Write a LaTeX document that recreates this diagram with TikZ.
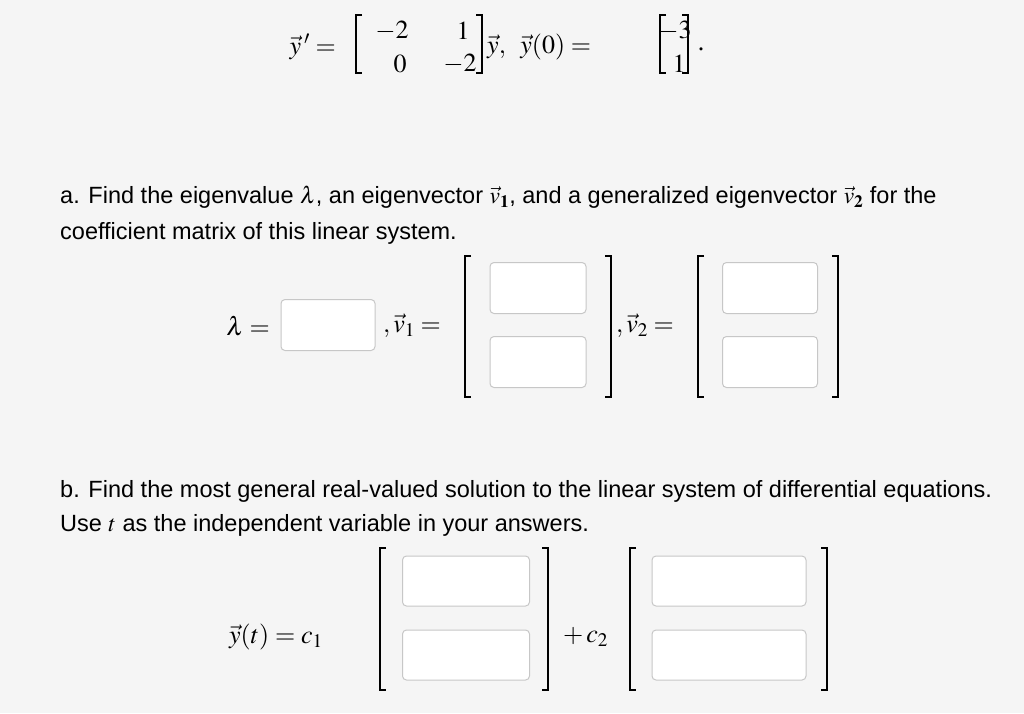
\documentclass[tikz,border=0pt]{standalone}
\usepackage{mathptmx}
\usepackage{fontspec}
\setmainfont{Liberation Serif}
\newfontfamily\uisans{Liberation Sans}
\begin{document}
\begin{tikzpicture}[x=1pt,y=-1pt,
  inbox/.style={draw=black!22,fill=white,rounded corners=4pt,line width=1pt},
  brk/.style={line width=1.4pt},
  txt/.style={anchor=west,inner sep=0,font=\uisans\fontsize{23.5}{28}\selectfont},
  mth/.style={inner sep=0,font=\fontsize{26}{30}\selectfont}]
\fill[black!4] (0,0) rectangle (1024,713);
\useasboundingbox (0,0) rectangle (1024,713);
% top equation
\node[mth,anchor=east] (eq1) at (336,47) {$\vec{y}\,' =$};
\draw[brk] (362,15) -- (356,15) -- (356,73) -- (362,73);
\node[mth] (m11) at (392,31) {$-2$};
\node[mth] (m12) at (463,31) {$1$};
\node[mth] (m21) at (400,64) {$0$};
\node[mth] (m22) at (460,64) {$-2$};
\draw[brk] (476,15) -- (482,15) -- (482,73) -- (476,73);
\node[mth,anchor=west] (eq2) at (487,47) {$\vec{y},\;\; \vec{y}(0) =$};
\draw[brk] (666,15) -- (660,15) -- (660,73) -- (666,73);
\node[mth] (i1) at (675,31) {$-3$};
\node[mth] (i2) at (679,64) {$1$};
\draw[brk] (682,15) -- (688,15) -- (688,73) -- (682,73);
\node[mth] (dot) at (701,49) {.};
% part a
\node[txt] (a1) at (60,197) {a. Find the eigenvalue $\lambda$, an eigenvector $\vec{v}_{\mathbf 1}$, and a generalized eigenvector $\vec{v}_{\mathbf 2}$ for the};
\node[txt] (a2) at (60,233) {coefficient matrix of this linear system.};
\node[mth,anchor=east] (lam) at (270,326) {$\lambda =$};
\node[inbox,minimum width=94pt,minimum height=51pt,inner sep=0] (lb) at (328,325) {};
\node[mth,anchor=west] (v1) at (383,326) {${,}\,\vec{v}_{1} =$};
\draw[brk] (471,256) -- (465,256) -- (465,397) -- (471,397);
\node[inbox,minimum width=96pt,minimum height=51pt,inner sep=0] (b11) at (538,288) {};
\node[inbox,minimum width=96pt,minimum height=51pt,inner sep=0] (b12) at (538,362) {};
\draw[brk] (605,256) -- (611,256) -- (611,397) -- (605,397);
\node[mth,anchor=west] (v2) at (616,326) {${,}\,\vec{v}_{2} =$};
\draw[brk] (704,256) -- (698,256) -- (698,397) -- (704,397);
\node[inbox,minimum width=95pt,minimum height=51pt,inner sep=0] (b21) at (770,288) {};
\node[inbox,minimum width=95pt,minimum height=51pt,inner sep=0] (b22) at (770,362) {};
\draw[brk] (832,256) -- (838,256) -- (838,397) -- (832,397);
% part b
\node[txt] (b1) at (60,491) {b. Find the most general real-valued solution to the linear system of differential equations.};
\node[txt] (b2) at (60,525) {Use $t$ as the independent variable in your answers.};
\node[mth,anchor=west] (yt) at (229,637) {$\vec{y}(t) = c_1$};
\draw[brk] (386,548) -- (380,548) -- (380,690) -- (386,690);
\node[inbox,minimum width=127pt,minimum height=50pt,inner sep=0] (c11) at (466,581) {};
\node[inbox,minimum width=127pt,minimum height=50pt,inner sep=0] (c12) at (466,655) {};
\draw[brk] (542,548) -- (548,548) -- (548,690) -- (542,690);
\node[mth,anchor=west] (c2) at (563,637) {$+\,c_2$};
\draw[brk] (636,548) -- (630,548) -- (630,690) -- (636,690);
\node[inbox,minimum width=154pt,minimum height=50pt,inner sep=0] (c21) at (729,581) {};
\node[inbox,minimum width=154pt,minimum height=50pt,inner sep=0] (c22) at (729,655) {};
\draw[brk] (821,548) -- (827,548) -- (827,690) -- (821,690);
\end{tikzpicture}
\end{document}
